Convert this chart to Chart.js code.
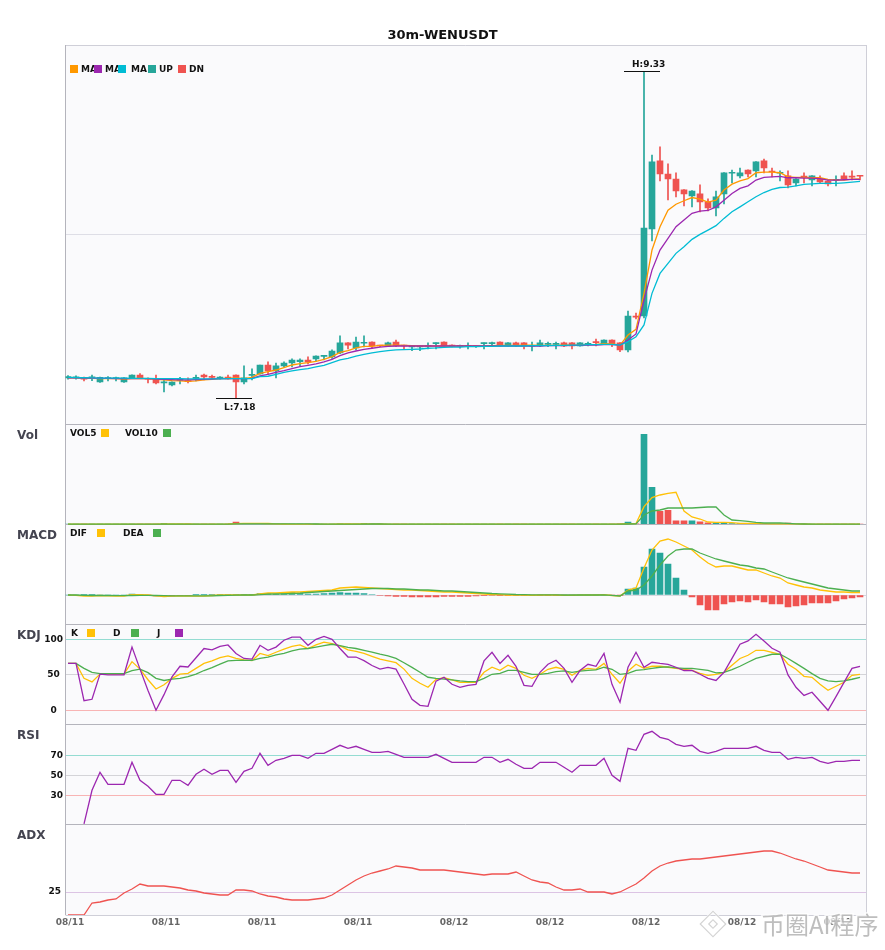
<!DOCTYPE html>
<html>
<head>
<meta charset="utf-8">
<title>30m-WENUSDT</title>
<script src="https://cdn.jsdelivr.net/npm/chart.js@4/dist/chart.umd.min.js"></script>
<style>
  body { margin: 0; background: #fff; }
  canvas { display: block; }
</style>
</head>
<body>
<canvas id="kline" width="885" height="950"></canvas>
<script>
// === 1. Data ===

const xTickIndex = [0, 12, 24, 36, 48, 60, 72, 84, 96];
const xTickLabels = ['08/11', '08/11', '08/11', '08/11', '08/12', '08/12', '08/12', '08/12', '08/12'];

const opens = [
  7.315, 7.315, 7.319, 7.315, 7.288, 7.310, 7.310, 7.288, 7.315, 7.334,
  7.308, 7.304, 7.282, 7.269, 7.299, 7.293, 7.312, 7.334, 7.321, 7.312,
  7.321, 7.334, 7.288, 7.332, 7.341, 7.400, 7.361, 7.394, 7.413, 7.422,
  7.433, 7.440, 7.457, 7.453, 7.479, 7.545, 7.512, 7.543, 7.551, 7.527,
  7.525, 7.551, 7.527, 7.519, 7.519, 7.523, 7.541, 7.551, 7.531, 7.523,
  7.523, 7.520, 7.541, 7.541, 7.551, 7.525, 7.545, 7.545, 7.523, 7.525,
  7.536, 7.536, 7.545, 7.545, 7.525, 7.536, 7.549, 7.538, 7.564, 7.545,
  7.499, 7.717, 7.722, 8.294, 8.742, 8.656, 8.623, 8.551, 8.511, 8.525,
  8.472, 8.433, 8.525, 8.661, 8.643, 8.682, 8.676, 8.742, 8.671, 8.661,
  8.643, 8.597, 8.637, 8.617, 8.623, 8.610, 8.615, 8.643, 8.637, 8.643
];
const highs = [
  7.330, 7.328, 7.321, 7.334, 7.321, 7.323, 7.321, 7.317, 7.336, 7.343,
  7.315, 7.334, 7.308, 7.290, 7.319, 7.315, 7.334, 7.341, 7.334, 7.323,
  7.334, 7.336, 7.394, 7.374, 7.400, 7.420, 7.413, 7.420, 7.440, 7.440,
  7.453, 7.461, 7.461, 7.499, 7.591, 7.547, 7.584, 7.591, 7.553, 7.530,
  7.551, 7.564, 7.531, 7.525, 7.525, 7.545, 7.545, 7.553, 7.533, 7.531,
  7.545, 7.525, 7.545, 7.551, 7.553, 7.547, 7.551, 7.547, 7.551, 7.564,
  7.551, 7.551, 7.551, 7.547, 7.547, 7.551, 7.571, 7.566, 7.566, 7.547,
  7.755, 7.742, 9.330, 8.781, 8.834, 8.722, 8.663, 8.553, 8.546, 8.584,
  8.492, 8.544, 8.665, 8.682, 8.695, 8.684, 8.737, 8.754, 8.695, 8.676,
  8.676, 8.625, 8.663, 8.645, 8.643, 8.612, 8.643, 8.663, 8.676, 8.645
];
const lows = [
  7.306, 7.306, 7.295, 7.297, 7.285, 7.295, 7.295, 7.286, 7.313, 7.310,
  7.282, 7.275, 7.223, 7.262, 7.275, 7.282, 7.295, 7.302, 7.308, 7.306,
  7.306, 7.180, 7.275, 7.302, 7.339, 7.341, 7.315, 7.387, 7.387, 7.394,
  7.407, 7.426, 7.433, 7.444, 7.475, 7.505, 7.499, 7.518, 7.512, 7.520,
  7.523, 7.521, 7.503, 7.494, 7.494, 7.505, 7.505, 7.523, 7.519, 7.510,
  7.505, 7.516, 7.505, 7.525, 7.523, 7.523, 7.521, 7.505, 7.492, 7.521,
  7.521, 7.505, 7.521, 7.505, 7.523, 7.525, 7.525, 7.536, 7.521, 7.488,
  7.486, 7.703, 7.709, 8.216, 8.610, 8.485, 8.505, 8.446, 8.439, 8.406,
  8.413, 8.380, 8.459, 8.597, 8.630, 8.636, 8.636, 8.663, 8.636, 8.610,
  8.564, 8.577, 8.597, 8.577, 8.597, 8.577, 8.577, 8.617, 8.617, 8.617
];
const closes = [
  7.323, 7.319, 7.306, 7.317, 7.319, 7.312, 7.312, 7.315, 7.334, 7.315,
  7.306, 7.282, 7.284, 7.288, 7.301, 7.291, 7.314, 7.321, 7.319, 7.321,
  7.308, 7.288, 7.315, 7.334, 7.400, 7.361, 7.394, 7.413, 7.433, 7.433,
  7.420, 7.459, 7.459, 7.492, 7.545, 7.531, 7.551, 7.545, 7.525, 7.525,
  7.545, 7.525, 7.525, 7.521, 7.521, 7.525, 7.543, 7.525, 7.521, 7.525,
  7.525, 7.522, 7.543, 7.543, 7.525, 7.545, 7.525, 7.525, 7.525, 7.545,
  7.538, 7.538, 7.525, 7.525, 7.545, 7.538, 7.547, 7.564, 7.538, 7.499,
  7.722, 7.715, 8.301, 8.735, 8.656, 8.623, 8.544, 8.525, 8.544, 8.472,
  8.433, 8.505, 8.663, 8.663, 8.663, 8.656, 8.735, 8.695, 8.669, 8.663,
  8.584, 8.623, 8.635, 8.643, 8.603, 8.590, 8.617, 8.623, 8.635, 8.641
];

const ma5 = [
  7.315, 7.315, 7.312, 7.312, 7.310, 7.310, 7.310, 7.308, 7.310, 7.312,
  7.310, 7.306, 7.302, 7.297, 7.295, 7.293, 7.295, 7.302, 7.306, 7.310,
  7.312, 7.315, 7.310, 7.319, 7.345, 7.356, 7.367, 7.383, 7.400, 7.409,
  7.415, 7.424, 7.437, 7.455, 7.483, 7.494, 7.512, 7.523, 7.523, 7.529,
  7.531, 7.531, 7.529, 7.527, 7.525, 7.525, 7.525, 7.525, 7.525, 7.525,
  7.525, 7.525, 7.525, 7.527, 7.529, 7.529, 7.529, 7.531, 7.531, 7.529,
  7.529, 7.529, 7.531, 7.531, 7.531, 7.534, 7.536, 7.540, 7.538, 7.531,
  7.597, 7.634, 7.871, 8.156, 8.309, 8.418, 8.457, 8.480, 8.501, 8.491,
  8.471, 8.484, 8.550, 8.589, 8.611, 8.626, 8.664, 8.668, 8.668, 8.664,
  8.637, 8.633, 8.633, 8.631, 8.631, 8.620, 8.616, 8.616, 8.622, 8.624
];
const ma10 = [
  7.315, 7.315, 7.314, 7.313, 7.312, 7.312, 7.311, 7.310, 7.310, 7.310,
  7.310, 7.308, 7.306, 7.304, 7.302, 7.302, 7.304, 7.306, 7.308, 7.310,
  7.310, 7.310, 7.310, 7.312, 7.328, 7.339, 7.352, 7.363, 7.376, 7.389,
  7.398, 7.407, 7.420, 7.437, 7.461, 7.479, 7.492, 7.503, 7.510, 7.518,
  7.523, 7.525, 7.525, 7.525, 7.525, 7.525, 7.525, 7.525, 7.525, 7.525,
  7.525, 7.525, 7.525, 7.525, 7.525, 7.525, 7.525, 7.525, 7.525, 7.525,
  7.527, 7.527, 7.527, 7.529, 7.529, 7.531, 7.531, 7.534, 7.534, 7.531,
  7.564, 7.604, 7.827, 8.024, 8.156, 8.232, 8.309, 8.353, 8.397, 8.412,
  8.416, 8.440, 8.484, 8.528, 8.561, 8.578, 8.616, 8.633, 8.637, 8.640,
  8.631, 8.631, 8.629, 8.629, 8.626, 8.616, 8.616, 8.618, 8.620, 8.620
];
const ma30 = [
  7.318, 7.317, 7.316, 7.315, 7.314, 7.314, 7.313, 7.313, 7.312, 7.312,
  7.312, 7.311, 7.311, 7.310, 7.310, 7.309, 7.309, 7.309, 7.309, 7.309,
  7.310, 7.310, 7.310, 7.310, 7.323, 7.326, 7.339, 7.352, 7.361, 7.370,
  7.376, 7.387, 7.398, 7.415, 7.433, 7.444, 7.459, 7.470, 7.479, 7.488,
  7.494, 7.499, 7.501, 7.503, 7.505, 7.510, 7.512, 7.516, 7.518, 7.518,
  7.521, 7.521, 7.523, 7.523, 7.525, 7.525, 7.525, 7.525, 7.527, 7.527,
  7.527, 7.529, 7.529, 7.531, 7.531, 7.534, 7.534, 7.536, 7.536, 7.531,
  7.553, 7.586, 7.663, 7.871, 8.002, 8.068, 8.134, 8.178, 8.226, 8.259,
  8.287, 8.316, 8.364, 8.408, 8.440, 8.473, 8.506, 8.534, 8.554, 8.567,
  8.569, 8.578, 8.587, 8.591, 8.594, 8.594, 8.594, 8.598, 8.602, 8.607
];

const volumes = [
  0.2, 0.2, 0.2, 0.2, 0.3, 0.2, 0.2, 0.2, 0.2, 0.2,
  0.2, 0.3, 1.0, 0.3, 0.2, 0.2, 0.2, 0.3, 0.2, 0.2,
  0.3, 2.3, 1.0, 0.3, 0.3, 0.3, 0.3, 0.2, 0.2, 0.2,
  0.2, 0.2, 0.2, 0.3, 0.4, 0.2, 0.3, 1.0, 0.2, 0.2,
  0.2, 0.2, 0.2, 0.2, 0.2, 0.2, 0.2, 0.2, 0.2, 0.2,
  0.2, 0.2, 0.2, 0.2, 0.2, 0.2, 0.2, 0.2, 0.2, 0.2,
  0.2, 0.2, 0.2, 0.2, 0.2, 0.2, 0.2, 0.3, 0.3, 0.5,
  2.3, 0.5, 90, 37, 13, 14, 3.5, 3.5, 3.5, 2.5,
  1.5, 1.5, 1.5, 0.7, 0.6, 0.7, 0.8, 1.0, 0.3, 0.3,
  1.2, 0.3, 0.2, 0.2, 0.2, 0.2, 0.2, 0.2, 0.2, 0.2
];
const vol5 = [
  0.2, 0.2, 0.2, 0.2, 0.2, 0.2, 0.2, 0.2, 0.2, 0.2,
  0.2, 0.2, 0.3, 0.3, 0.3, 0.3, 0.2, 0.2, 0.2, 0.2,
  0.3, 0.7, 0.9, 0.9, 0.9, 0.8, 0.4, 0.3, 0.2, 0.2,
  0.2, 0.2, 0.2, 0.2, 0.3, 0.3, 0.3, 0.4, 0.4, 0.3,
  0.2, 0.2, 0.2, 0.2, 0.2, 0.2, 0.2, 0.2, 0.2, 0.2,
  0.2, 0.2, 0.2, 0.2, 0.2, 0.2, 0.2, 0.2, 0.2, 0.2,
  0.2, 0.2, 0.2, 0.2, 0.2, 0.2, 0.2, 0.2, 0.2, 0.3,
  0.6, 0.7, 17.7, 26.7, 29.3, 31, 32, 13.3, 7.3, 5.3,
  2.3, 2, 2, 1.7, 1, 1, 1, 0.7, 0.5, 0.4,
  0.4, 0.4, 0.3, 0.2, 0.2, 0.2, 0.2, 0.2, 0.2, 0.2
];
const vol10 = [
  0.2, 0.2, 0.2, 0.2, 0.2, 0.2, 0.2, 0.2, 0.2, 0.2,
  0.2, 0.2, 0.2, 0.2, 0.2, 0.2, 0.2, 0.2, 0.2, 0.2,
  0.2, 0.4, 0.5, 0.5, 0.5, 0.5, 0.5, 0.5, 0.5, 0.5,
  0.4, 0.3, 0.2, 0.2, 0.2, 0.2, 0.2, 0.2, 0.3, 0.3,
  0.2, 0.2, 0.2, 0.2, 0.2, 0.2, 0.2, 0.2, 0.2, 0.2,
  0.2, 0.2, 0.2, 0.2, 0.2, 0.2, 0.2, 0.2, 0.2, 0.2,
  0.2, 0.2, 0.2, 0.2, 0.2, 0.2, 0.2, 0.2, 0.2, 0.2,
  0.3, 0.4, 9.3, 13.3, 14.3, 16.3, 16.3, 16.3, 16.3, 16.8,
  17.3, 17.3, 9.3, 4.3, 3.7, 3, 2, 1.3, 1.3, 1.3,
  1, 0.4, 0.3, 0.2, 0.2, 0.2, 0.2, 0.2, 0.2, 0.2
];

const dif = [
  0, -0.003, -0.01, -0.01, -0.005, -0.008, -0.01, -0.01, 0.003, 0.003,
  0, -0.008, -0.015, -0.012, -0.01, -0.01, -0.012, -0.01, -0.005, 0,
  0, 0.002, 0, 0, 0.01, 0.02, 0.02, 0.025, 0.03, 0.03,
  0.035, 0.04, 0.045, 0.05, 0.07, 0.075, 0.08, 0.075, 0.07, 0.065,
  0.06, 0.055, 0.05, 0.05, 0.045, 0.04, 0.035, 0.03, 0.03, 0.025,
  0.02, 0.015, 0.01, 0.005, 0.003, 0, 0, 0, -0.003, 0,
  0, 0, -0.003, -0.003, 0, 0, 0, 0.003, -0.005, -0.01,
  0.05, 0.07, 0.27, 0.45, 0.54, 0.56, 0.53, 0.49, 0.45, 0.38,
  0.32, 0.28, 0.29, 0.29, 0.27, 0.25, 0.25, 0.22, 0.19, 0.17,
  0.12, 0.10, 0.08, 0.07, 0.05, 0.04, 0.03, 0.03, 0.025, 0.025
];
const dea = [
  0, 0, -0.003, -0.005, -0.005, -0.005, -0.007, -0.007, -0.005, -0.003,
  -0.003, -0.005, -0.007, -0.008, -0.008, -0.008, -0.009, -0.009, -0.008, -0.005,
  -0.003, -0.002, 0, 0, 0.003, 0.008, 0.01, 0.012, 0.015, 0.018,
  0.025, 0.03, 0.035, 0.04, 0.045, 0.05, 0.055, 0.06, 0.065, 0.065,
  0.065, 0.06, 0.06, 0.055, 0.05, 0.05, 0.045, 0.04, 0.04, 0.035,
  0.03, 0.025, 0.02, 0.015, 0.012, 0.008, 0.005, 0.004, 0.002, 0.002,
  0.002, 0.002, 0, 0, 0, 0, 0, 0.002, -0.003, -0.01,
  0.04, 0.05, 0.10, 0.19, 0.30, 0.39, 0.45, 0.46, 0.46, 0.42,
  0.39, 0.36, 0.34, 0.32, 0.30, 0.29, 0.27, 0.26, 0.23, 0.20,
  0.17, 0.15, 0.13, 0.11, 0.09, 0.07, 0.06, 0.05, 0.04, 0.04
];
const macdHist = [
  0, 0, 0.002, 0.002, 0, 0, 0, 0, 0.01, 0.002,
  -0.002, -0.01, -0.01, -0.01, -0.003, -0.003, 0.007, 0.007, 0.007, 0.007,
  0.002, 0.002, 0.002, 0.002, 0.015, 0.015, 0.01, 0.015, 0.025, 0.02,
  0.01, 0.01, 0.015, 0.02, 0.025, 0.02, 0.02, 0.015, 0.005, -0.005,
  -0.01, -0.015, -0.015, -0.02, -0.02, -0.02, -0.02, -0.015, -0.015, -0.015,
  -0.015, -0.01, -0.007, -0.005, -0.003, -0.003, -0.002, -0.002, -0.002, -0.002,
  -0.002, -0.002, -0.002, -0.002, 0, 0, 0, 0, -0.002, -0.002,
  0.06, 0.07, 0.28, 0.46, 0.42, 0.31, 0.17, 0.05, -0.02, -0.10,
  -0.15, -0.15, -0.09, -0.07, -0.06, -0.07, -0.05, -0.07, -0.09, -0.09,
  -0.12, -0.11, -0.10, -0.08, -0.08, -0.08, -0.06, -0.04, -0.03, -0.02
];

const kLine = [
  66, 66, 45, 40, 51, 51, 51, 51, 68.5, 58,
  43, 30, 36, 45, 51, 52, 59, 66, 69.5, 74,
  76.5, 73, 71, 70, 80, 77, 81.7, 86, 90, 92,
  87, 92, 96, 94, 90.6, 85, 83, 80, 76, 72,
  69.5, 67, 58, 45, 38, 32.4, 43.7, 46, 42.7, 39.4,
  39.4, 39.4, 53.5, 60.6, 56.3, 63.4, 59, 49.3, 45, 50.7,
  57.7, 60.6, 57.7, 49.3, 56.3, 59, 57.7, 66, 50.7, 38,
  55, 64.8, 59, 62, 62, 60.6, 59, 57.7, 56.3, 52,
  49.3, 50.7, 53.5, 63.4, 73, 77.5, 84.5, 84.5, 81.7, 78.9,
  64.8, 57.7, 47.9, 46.5, 36.6, 28.2, 33.8, 39.4, 49.3, 50.7
];
const dLine = [
  66, 66, 59, 53.5, 51.6, 51.6, 51.6, 51.6, 56, 58,
  53, 45, 42, 44, 45, 47.4, 51, 56, 60, 65,
  69.5, 70.4, 70.4, 70.4, 73, 75, 78, 80, 83.6, 86,
  87, 89, 91, 93, 91, 88.7, 87, 84.5, 82, 79,
  76.5, 73, 67, 60.5, 53.5, 46.5, 45, 44, 42.7, 41.3,
  40.4, 40.4, 45, 50.7, 52, 56.3, 56.3, 53.5, 50.7, 50.7,
  52, 54.5, 55.4, 53.5, 55, 56.3, 56.8, 60.6, 57.7, 50.7,
  52, 56.3, 57.3, 59, 60.6, 61, 59.6, 59, 59, 57.7,
  56.3, 52.6, 53.5, 57.3, 62, 67.6, 73, 76, 78.9, 78.9,
  73, 66, 59, 51.6, 45, 41.3, 40.4, 41.3, 43.7, 46.5
];
const jLine = [
  66, 66, 13.6, 15.5, 51, 50, 50, 50, 89, 58,
  28, 0, 22, 47, 62, 61, 74, 87, 85, 90,
  92, 80, 73, 72, 91.5, 84.5, 89, 98.6, 103, 103,
  91.5, 100, 104, 100, 87, 75, 75, 70, 63, 58,
  60.5, 58, 37, 15.5, 7, 5.6, 41, 46.5, 36.6, 32.4,
  35.2, 36.6, 69.5, 81.7, 66, 77.5, 62, 35.2, 33.8, 53.5,
  64.8, 70.4, 59, 39.4, 56, 64.8, 62, 80, 36.6, 11.3,
  60.6, 81.7, 60.6, 67.6, 66, 64.8, 60.6, 56, 56, 50.7,
  45, 42, 53.5, 73, 93, 97.7, 107, 97.7, 87.3, 81.7,
  49.8, 32.4, 21, 25.4, 12.7, 0, 19.2, 39.4, 59, 62
];

const rsi = [
  null, null, 1.5, 35, 53, 41, 41, 41, 63, 45,
  39, 31, 31, 45, 45, 40, 51, 56, 51, 55,
  55, 43, 54, 57, 72, 60, 65, 67, 70, 70,
  67, 72, 72, 76, 80, 77, 79, 76, 73, 73,
  74, 71, 68, 68, 68, 68, 71, 67, 63, 63,
  63, 63, 68, 68, 63, 66, 61, 57, 57, 63,
  63, 63, 58, 53, 60, 60, 60, 67, 50, 44,
  77, 75, 91, 94, 88, 86, 81, 79, 80, 74,
  72, 74, 77, 77, 77, 77, 79, 75, 73, 73,
  66, 68, 67, 68, 64, 62, 64, 64, 65, 65
];
const adx = [
  2, 2, 2, 14, 15, 17, 18, 24, 28, 33,
  31, 31, 31, 30, 29, 27, 26, 24, 23, 22,
  22, 27, 27, 26, 23, 21, 20, 18, 17, 17,
  17, 18, 19, 22, 27, 32, 37, 41, 44, 46,
  48, 51, 50, 49, 47, 47, 47, 47, 46, 45,
  44, 43, 42, 43, 43, 43, 45, 41, 37, 35,
  34, 30, 27, 27, 28, 25, 25, 25, 23, 25,
  29, 33, 39, 46, 51, 54, 56, 57, 58, 58,
  59, 60, 61, 62, 63, 64, 65, 66, 66, 64,
  61, 58, 56, 53, 50, 47, 46, 45, 44, 44
];

// === 2. Colours and small helpers ===

const UP = '#26a69a', DOWN = '#ef5350';
const ORANGE = '#ff9800', PURPLE = '#9c27b0', CYAN = '#00bcd4', YELLOW = '#ffc107', GREEN = '#4caf50';
const FONT = '"DejaVu Sans"';
const LEVEL_HIGH = '#94dcd2', LEVEL_MID = '#d4d4d8', LEVEL_LOW = '#f8b4b4';

const pts = vals => vals.map((v, i) => ({ x: i, y: v }));
const candleColor = opens.map((o, i) => (closes[i] >= o ? UP : DOWN));

// lower order is painted later, so each new line lands over the one before it
let lineOrder = 50;
const line = (label, data, color, yAxisID, extra) => Object.assign({
  type: 'line', label, data: pts(data), yAxisID,
  borderColor: color, borderWidth: 1.3, pointRadius: 0, tension: 0, order: lineOrder--
}, extra);
const bar = (label, data, color, yAxisID, thickness, extra) => Object.assign({
  type: 'bar', label, data: pts(data), yAxisID,
  backgroundColor: color, barThickness: thickness, grouped: false, borderWidth: 0, order: 100
}, extra);

// Fixed tick list per panel, grid colour keyed on the tick value
const yAxis = (weight, min, max, gridColors, showLabels, padding) => ({
  type: 'linear', stack: 'panels', stackWeight: weight, min, max,
  afterBuildTicks: scale => { scale.ticks = Object.keys(gridColors).map(v => ({ value: Number(v) })); },
  afterFit: scale => { scale.width = 46.5; },
  grid: { color: ctx => gridColors[ctx.tick.value], drawTicks: false },
  border: { display: false },
  ticks: {
    display: showLabels, autoSkip: false, padding: padding || 3, crossAlign: 'center',
    callback: v => String(v), color: '#111', font: { family: FONT, size: 9, weight: 'bold' }
  }
});

// === 3. Panel frames, legends and notes ===

const panelTitles = [['Vol', 'yVol'], ['MACD', 'yMacd'], ['KDJ', 'yKdj'], ['RSI', 'yRsi'], ['ADX', 'yAdx']];
const legends = [
  { y: 69, items: [['MA', 81, ORANGE, 70], ['MA', 105, PURPLE, 94], ['MA', 131, CYAN, 118], ['UP', 159, UP, 148], ['DN', 189, DOWN, 178]] },
  { y: 433, items: [['VOL5', 70, YELLOW, 101], ['VOL10', 125, GREEN, 163]] },
  { y: 533, items: [['DIF', 70, YELLOW, 97], ['DEA', 123, GREEN, 153]] },
  { y: 633, items: [['K', 71, YELLOW, 87], ['D', 113, GREEN, 131], ['J', 157, PURPLE, 175]] }
];

const framePlugin = {
  id: 'frames',
  beforeDraw(chart) {
    const { ctx, chartArea: a } = chart;
    ctx.fillStyle = '#fafafc';
    ctx.fillRect(a.left, a.top, a.right - a.left, a.bottom - a.top);
  },
  beforeDatasetsDraw(chart) {
    const { ctx, chartArea: a, scales } = chart;
    ctx.save();
    ctx.lineWidth = 1;
    ctx.strokeStyle = '#cfcfd8';
    ctx.beginPath();
    ctx.moveTo(a.left, a.top + 0.5);
    ctx.lineTo(a.right, a.top + 0.5);
    ctx.moveTo(a.right + 0.5, a.top);
    ctx.lineTo(a.right + 0.5, a.bottom);
    ctx.moveTo(a.left, a.bottom + 0.5);
    ctx.lineTo(a.right, a.bottom + 0.5);
    ctx.stroke();
    ctx.strokeStyle = '#b4b4bc';
    ctx.beginPath();
    ctx.moveTo(a.left, a.top);
    ctx.lineTo(a.left, a.bottom);
    panelTitles.forEach(([, id]) => {
      const y = Math.round(scales[id].top) + 0.5;
      ctx.moveTo(a.left, y);
      ctx.lineTo(a.right, y);
    });
    ctx.stroke();
    ctx.restore();
  },
  afterDraw(chart) {
    const { ctx, scales } = chart;
    ctx.save();
    ctx.textBaseline = 'middle';

    ctx.fillStyle = '#444450';
    ctx.font = `bold 12px ${FONT}`;
    panelTitles.forEach(([name, id]) => ctx.fillText(name, 17, scales[id].top + 11.5));

    // text first, swatches after, the swatches sit over the long labels
    ctx.font = `bold 9px ${FONT}`;
    legends.forEach(({ y, items }) => {
      ctx.fillStyle = '#111';
      items.forEach(([name, tx]) => ctx.fillText(name, tx, y + 1));
      items.forEach(([, , color, sx]) => {
        ctx.fillStyle = color;
        ctx.fillRect(sx, y - 4, 8, 8);
      });
    });

    // highest high and lowest low of the main panel
    const hi = highs.indexOf(Math.max(...highs));
    const lo = lows.indexOf(Math.min(...lows));
    const hx = scales.x.getPixelForValue(hi), hy = Math.round(scales.yMain.getPixelForValue(highs[hi])) + 0.5;
    const lx = scales.x.getPixelForValue(lo), ly = Math.round(scales.yMain.getPixelForValue(lows[lo])) + 0.5;
    ctx.strokeStyle = '#111';
    ctx.beginPath();
    ctx.moveTo(hx - 20, hy);
    ctx.lineTo(hx + 16, hy);
    ctx.moveTo(lx - 20, ly);
    ctx.lineTo(lx + 16, ly);
    ctx.stroke();
    ctx.fillStyle = '#111';
    ctx.fillText('H:' + highs[hi].toFixed(2), hx - 12, hy - 7);
    ctx.fillText('L:' + lows[lo].toFixed(2), lx - 12, ly + 9);

    // watermark in the bottom right corner
    ctx.globalAlpha = 0.75;
    ctx.font = '24px "Noto Sans CJK SC"';
    ctx.lineWidth = 3;
    ctx.strokeStyle = '#fff';
    ctx.strokeText('币圈AI程序', 761, 925);
    ctx.fillStyle = '#a8a8a8';
    ctx.fillText('币圈AI程序', 761, 925);
    ctx.translate(713, 924);
    ctx.rotate(Math.PI / 4);
    ctx.lineWidth = 2.5;
    ctx.strokeStyle = '#fff';
    ctx.strokeRect(-9, -9, 18, 18);
    ctx.lineWidth = 1.2;
    ctx.strokeStyle = '#c4c4c4';
    ctx.strokeRect(-9, -9, 18, 18);
    ctx.strokeRect(-3, -3, 6, 6);
    ctx.restore();
  }
};

// === 4. Chart ===

new Chart(document.getElementById('kline'), {
  data: {
    datasets: [
      bar('wick', opens.map(() => 0), candleColor, 'yMain', 1, { data: lows.map((l, i) => ({ x: i, y: [l, highs[i]] })), order: 101 }),
      bar('body', opens.map(() => 0), candleColor, 'yMain', 6, { data: opens.map((o, i) => ({ x: i, y: [o, closes[i]] })), minBarLength: 1 }),
      line('MA5', ma5, ORANGE, 'yMain'),
      line('MA10', ma10, PURPLE, 'yMain'),
      line('MA30', ma30, CYAN, 'yMain'),
      bar('VOL', volumes, candleColor, 'yVol', 6),
      // the quiet stretch runs along the panel edge, so these two are not clipped
      line('VOL5', vol5, YELLOW, 'yVol', { clip: false }),
      line('VOL10', vol10, GREEN, 'yVol', { clip: false }),
      bar('MACD', macdHist, macdHist.map(v => (v >= 0 ? UP : DOWN)), 'yMacd', 6),
      line('DIF', dif, YELLOW, 'yMacd'),
      line('DEA', dea, GREEN, 'yMacd'),
      line('K', kLine, YELLOW, 'yKdj'),
      line('D', dLine, GREEN, 'yKdj'),
      line('J', jLine, PURPLE, 'yKdj'),
      line('RSI', rsi, PURPLE, 'yRsi'),
      line('ADX', adx, DOWN, 'yAdx')
    ]
  },
  options: {
    responsive: false,
    animation: false,
    events: [],
    layout: { padding: { left: 19, right: 19 } },
    plugins: {
      legend: { display: false },
      tooltip: { enabled: false },
      title: {
        display: true,
        text: '30m-WENUSDT',
        color: '#111',
        font: { family: FONT, size: 13, weight: 'bold' },
        padding: { top: 28, bottom: 1.4 }
      }
    },
    scales: {
      x: {
        type: 'linear', min: -0.3125, max: 99.75, offset: false,
        afterBuildTicks: scale => { scale.ticks = xTickIndex.map(v => ({ value: v })); },
        afterFit: scale => { scale.height = 35; },
        grid: { display: false, offset: false, drawTicks: false },
        border: { display: false },
        ticks: {
          autoSkip: false, maxRotation: 0, padding: 2, labelOffset: 2, color: '#666',
          font: { family: FONT, size: 9, weight: 'bold' },
          callback: (v, i) => xTickLabels[i]
        }
      },
      // stacked axes are laid out from the bottom up
      yAdx: yAxis(91, 2, 93, { 25: '#dcc4e4' }, true, 4.5),
      yRsi: yAxis(100, 1.3, 101.3, { 30: LEVEL_LOW, 50: LEVEL_MID, 70: LEVEL_HIGH }, true, 2.5),
      yKdj: yAxis(100, -19.3, 121.5, { 0: LEVEL_LOW, 50: LEVEL_MID, 100: LEVEL_HIGH }, true, 2.5),
      yMacd: yAxis(100, -0.29, 0.71, { 0: '#d8d8e0' }, false),
      yVol: yAxis(100, 0.3, 100.3, {}, false),
      yMain: yAxis(379, 7.012, 9.504, { 8.258: '#dedee6' }, false)
    }
  },
  plugins: [framePlugin]
});
</script>
</body>
</html>
